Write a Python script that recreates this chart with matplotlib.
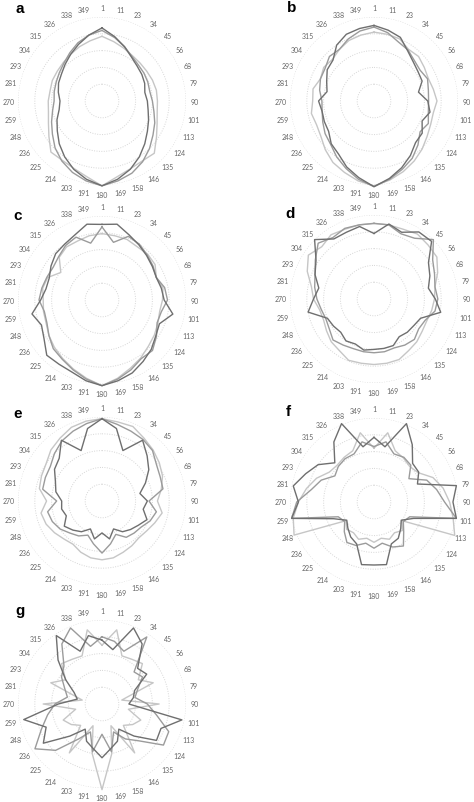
import numpy as np
import matplotlib
matplotlib.use("Agg")
import matplotlib.pyplot as plt

# angle labels (degrees) around each radar
angle_labels = ["1", "11", "23", "34", "45", "56", "68", "79", "90", "101", "113",
                "124", "135", "146", "158", "169", "180", "191", "203", "214",
                "225", "236", "248", "259", "270", "281", "293", "304", "315",
                "326", "338", "349"]

panel_names = ["a", "b", "c", "d", "e", "f", "g"]

# three series per panel: dark, medium, light (outer ring = 10)
a_dark = [8.7, 7.8, 7.0, 6.3, 5.9, 5.7, 5.5, 5.2, 5.4, 5.6, 6.0, 6.5, 7.2, 8.0, 8.8, 9.5,
          10.1, 9.5, 8.8, 8.0, 7.2, 6.4, 5.8, 5.2, 5.0, 5.3, 5.6, 5.8, 6.2, 6.7, 7.3, 8.0]
a_mid = [8.4, 7.7, 7.0, 6.4, 6.1, 6.0, 5.9, 5.8, 6.0, 6.3, 6.8, 7.3, 8.0, 8.7, 9.3, 9.7,
         10.1, 9.7, 9.2, 8.6, 7.9, 7.1, 6.5, 6.0, 5.7, 5.8, 5.9, 6.1, 6.4, 6.9, 7.5, 8.0]
a_light = [7.7, 7.2, 6.8, 6.5, 6.4, 6.4, 6.5, 6.6, 6.6, 6.7, 7.1, 7.8, 8.8, 8.6, 8.75, 9.2,
           10.1, 9.2, 8.7, 8.5, 8.6, 7.6, 6.9, 6.5, 6.4, 6.3, 6.4, 6.4, 6.5, 6.7, 7.0, 7.3]

b_dark = [9.0, 8.6, 8.2, 7.2, 6.6, 6.3, 6.2, 5.4, 6.4, 6.8, 6.2, 6.9, 7.0, 7.8, 8.6, 9.4,
          10.2, 9.3, 8.5, 7.6, 7.2, 6.5, 6.4, 6.3, 6.6, 5.7, 6.1, 6.7, 6.9, 8.0, 8.6, 8.8]
b_mid = [8.8, 8.3, 7.6, 7.3, 6.8, 6.6, 6.9, 6.6, 6.5, 6.6, 7.0, 6.6, 7.4, 8.2, 8.8, 9.5,
         10.2, 9.5, 8.7, 8.0, 7.3, 7.0, 6.6, 6.3, 6.2, 6.6, 6.9, 7.0, 7.5, 7.4, 8.0, 8.5]
b_light = [8.2, 8.1, 8.0, 7.4, 7.5, 7.2, 7.0, 7.2, 7.5, 7.2, 7.3, 7.6, 8.1, 8.6, 9.1, 9.6,
           10.1, 9.7, 9.2, 8.8, 8.2, 7.6, 7.4, 7.6, 7.3, 7.4, 6.9, 7.2, 7.0, 7.4, 7.8, 8.0]

c_dark = [9.0, 9.2, 8.4, 7.9, 7.5, 7.2, 7.0, 7.2, 7.4, 8.6, 7.4, 7.7, 8.3, 8.8, 9.4, 9.8,
          10.2, 9.8, 9.3, 9.2, 9.3, 8.3, 7.8, 8.5, 7.3, 6.8, 6.8, 7.3, 7.8, 8.0, 8.4, 9.2]
c_mid = [8.7, 7.0, 8.2, 8.0, 7.6, 7.3, 7.0, 7.6, 7.8, 7.2, 7.1, 7.8, 8.5, 8.4, 9.0, 9.6,
         10.2, 9.6, 9.0, 8.5, 8.2, 7.6, 7.1, 7.0, 7.5, 7.3, 7.1, 7.0, 7.3, 7.8, 8.1, 6.9]
c_light = [7.9, 7.8, 7.8, 7.6, 7.7, 7.6, 7.0, 7.4, 7.2, 7.0, 7.2, 7.5, 7.8, 8.3, 8.8, 9.5,
           10.2, 9.5, 8.9, 8.4, 8.0, 7.6, 7.2, 7.1, 7.0, 7.2, 7.0, 5.9, 7.2, 7.6, 7.6, 7.8]

d_dark = [7.8, 9.1, 8.6, 9.6, 9.7, 7.8, 7.2, 6.6, 7.3, 8.1, 6.0, 5.7, 5.6, 5.4, 6.0, 6.0,
          6.0, 6.2, 5.8, 6.0, 5.6, 5.8, 6.0, 8.0, 7.2, 6.7, 7.6, 8.3, 10.0, 8.6, 8.6, 8.8]
d_mid = [9.0, 9.0, 8.4, 8.7, 10.0, 8.4, 7.8, 7.4, 7.6, 7.4, 6.6, 6.4, 6.8, 6.6, 6.3, 6.4,
         6.4, 6.4, 6.4, 6.6, 6.9, 6.4, 6.2, 6.4, 6.8, 7.2, 7.6, 8.4, 9.4, 8.8, 9.1, 9.0]
d_light = [9.0, 9.0, 9.0, 9.3, 9.1, 9.0, 8.2, 7.4, 7.2, 7.0, 6.8, 6.9, 7.2, 7.4, 7.8, 7.8,
           7.8, 7.8, 7.9, 7.4, 7.2, 6.8, 6.5, 6.6, 7.2, 7.6, 8.6, 9.4, 8.8, 9.2, 9.0, 9.0]

e_dark = [9.8, 8.8, 6.5, 8.7, 7.6, 6.7, 5.6, 4.6, 5.4, 5.0, 5.8, 5.2, 4.8, 4.4, 3.6, 4.6,
          3.8, 4.6, 3.6, 4.4, 4.9, 5.4, 4.6, 4.9, 4.8, 5.6, 6.0, 6.8, 7.2, 8.7, 6.5, 8.8]
e_mid = [9.8, 9.3, 9.0, 8.8, 8.5, 7.8, 7.5, 7.4, 5.6, 6.6, 6.2, 5.6, 5.4, 5.2, 4.3, 5.2,
         6.2, 5.2, 4.4, 5.0, 5.4, 6.0, 6.4, 6.6, 5.4, 7.2, 7.3, 7.4, 8.0, 8.6, 9.0, 9.4]
e_light = [9.8, 9.6, 9.6, 9.0, 8.6, 8.2, 7.8, 7.2, 6.6, 7.3, 6.8, 6.4, 6.2, 6.4, 6.6, 6.9,
           7.0, 6.9, 6.6, 6.2, 6.4, 6.8, 7.2, 7.4, 6.6, 7.6, 7.8, 8.0, 8.6, 9.0, 9.5, 9.7]

f_dark = [7.7, 6.7, 10.1, 8.2, 6.5, 6.4, 5.6, 10.0, 9.4, 10.0, 5.1, 3.9, 4.5, 5.2, 5.4, 7.6,
          7.5, 7.6, 5.4, 5.0, 4.4, 3.9, 5.2, 10.0, 9.0, 9.8, 8.8, 8.0, 6.6, 8.6, 10.1, 6.7]
f_mid = [6.6, 7.3, 6.2, 6.4, 6.2, 5.0, 6.8, 7.6, 8.4, 10.0, 4.6, 4.2, 5.0, 6.3, 5.8, 5.0,
         5.5, 5.0, 5.6, 5.8, 5.0, 4.2, 4.6, 10.0, 9.2, 7.6, 6.8, 5.6, 6.0, 6.2, 6.2, 7.3]
f_light = [6.4, 8.4, 6.6, 6.3, 6.0, 6.3, 7.6, 8.4, 9.0, 9.6, 10.4, 4.0, 4.8, 4.4, 4.8, 4.4,
           4.8, 4.4, 4.8, 4.4, 4.6, 4.0, 10.3, 9.8, 9.0, 8.2, 7.4, 6.4, 6.2, 6.4, 6.6, 8.4]

g_dark = [7.6, 6.6, 9.8, 8.6, 6.0, 6.4, 4.2, 3.8, 3.2, 9.7, 7.6, 7.8, 5.4, 3.6, 4.8, 5.4,
          6.4, 5.4, 4.8, 3.6, 5.4, 8.4, 7.2, 9.5, 5.2, 3.0, 3.6, 5.2, 7.4, 9.8, 6.8, 8.3]
g_mid = [8.0, 7.6, 6.8, 9.6, 5.4, 5.8, 4.6, 4.0, 5.4, 6.6, 8.6, 8.8, 6.2, 5.0, 3.6, 5.8,
         3.6, 5.8, 3.6, 5.0, 7.8, 9.6, 7.8, 6.6, 5.6, 4.2, 4.8, 5.8, 6.4, 8.6, 9.8, 7.0]
g_light = [7.0, 9.0, 6.2, 6.4, 6.8, 5.2, 6.6, 2.4, 6.8, 3.2, 5.0, 4.4, 3.6, 7.0, 2.8, 6.0,
           10.2, 6.0, 2.8, 7.0, 3.6, 4.4, 5.0, 3.2, 7.0, 2.4, 6.6, 5.2, 6.8, 6.4, 6.2, 9.0]

panels = [
    (a_dark, a_mid, a_light),
    (b_dark, b_mid, b_light),
    (c_dark, c_mid, c_light),
    (d_dark, d_mid, d_light),
    (e_dark, e_mid, e_light),
    (f_dark, f_mid, f_light),
    (g_dark, g_mid, g_light),
]

W, H = 474, 803
R = 84  # pixel radius of outer ring
centers = [(102, 102), (374, 102), (102, 301), (374, 300),
           (102, 502), (374, 503), (102, 705)]
letter_pos = [(15, 9), (287, 8), (13, 216), (285, 214), (13, 414), (286, 412), (15, 611)]

colors = {"dark": "#6f6f6f", "mid": "#9b9b9b", "light": "#c6c6c6"}

fig = plt.figure(figsize=(W / 100, H / 100), dpi=100)

theta = np.deg2rad(np.arange(len(angle_labels)) * 360 / len(angle_labels))
theta_c = np.append(theta, theta[0])

for (dark, mid, light), (cx, cy), name, (lx, ly) in zip(panels, centers, panel_names, letter_pos):
    ax = fig.add_axes([(cx - R) / W, (H - cy - R) / H, 2 * R / W, 2 * R / H],
                      projection="polar")
    ax.set_theta_zero_location("N")
    ax.set_theta_direction(-1)
    ax.set_ylim(0, 10)
    ax.set_yticks([2, 4, 6, 8, 10])
    ax.set_yticklabels([])
    ax.set_xticks([])
    ax.grid(False)
    ax.spines["polar"].set_visible(False)
    ax.patch.set_alpha(0)

    # dotted rings
    ring_t = np.linspace(0, 2 * np.pi, 200)
    for rr in [2, 4, 6, 8, 10]:
        ax.plot(ring_t, np.full_like(ring_t, rr), ls=(0, (1, 1.5)), lw=0.7,
                color="#d6d6d6", zorder=1)

    for vals, key in [(light, "light"), (mid, "mid"), (dark, "dark")]:
        v = np.append(vals, vals[0])
        ax.plot(theta_c, v, color=colors[key], lw=1.0, zorder=3, clip_on=False)

    for t, lab in zip(theta, angle_labels):
        ax.text(t, 11.1, lab, ha="center", va="center", fontsize=5,
                color="#666666", family="Lato", clip_on=False)

    fig.text(lx / W, 1 - ly / H, name, fontsize=11, fontweight="bold",
             family="Liberation Sans", ha="left", va="center")

fig.savefig("out.png", dpi=100)
